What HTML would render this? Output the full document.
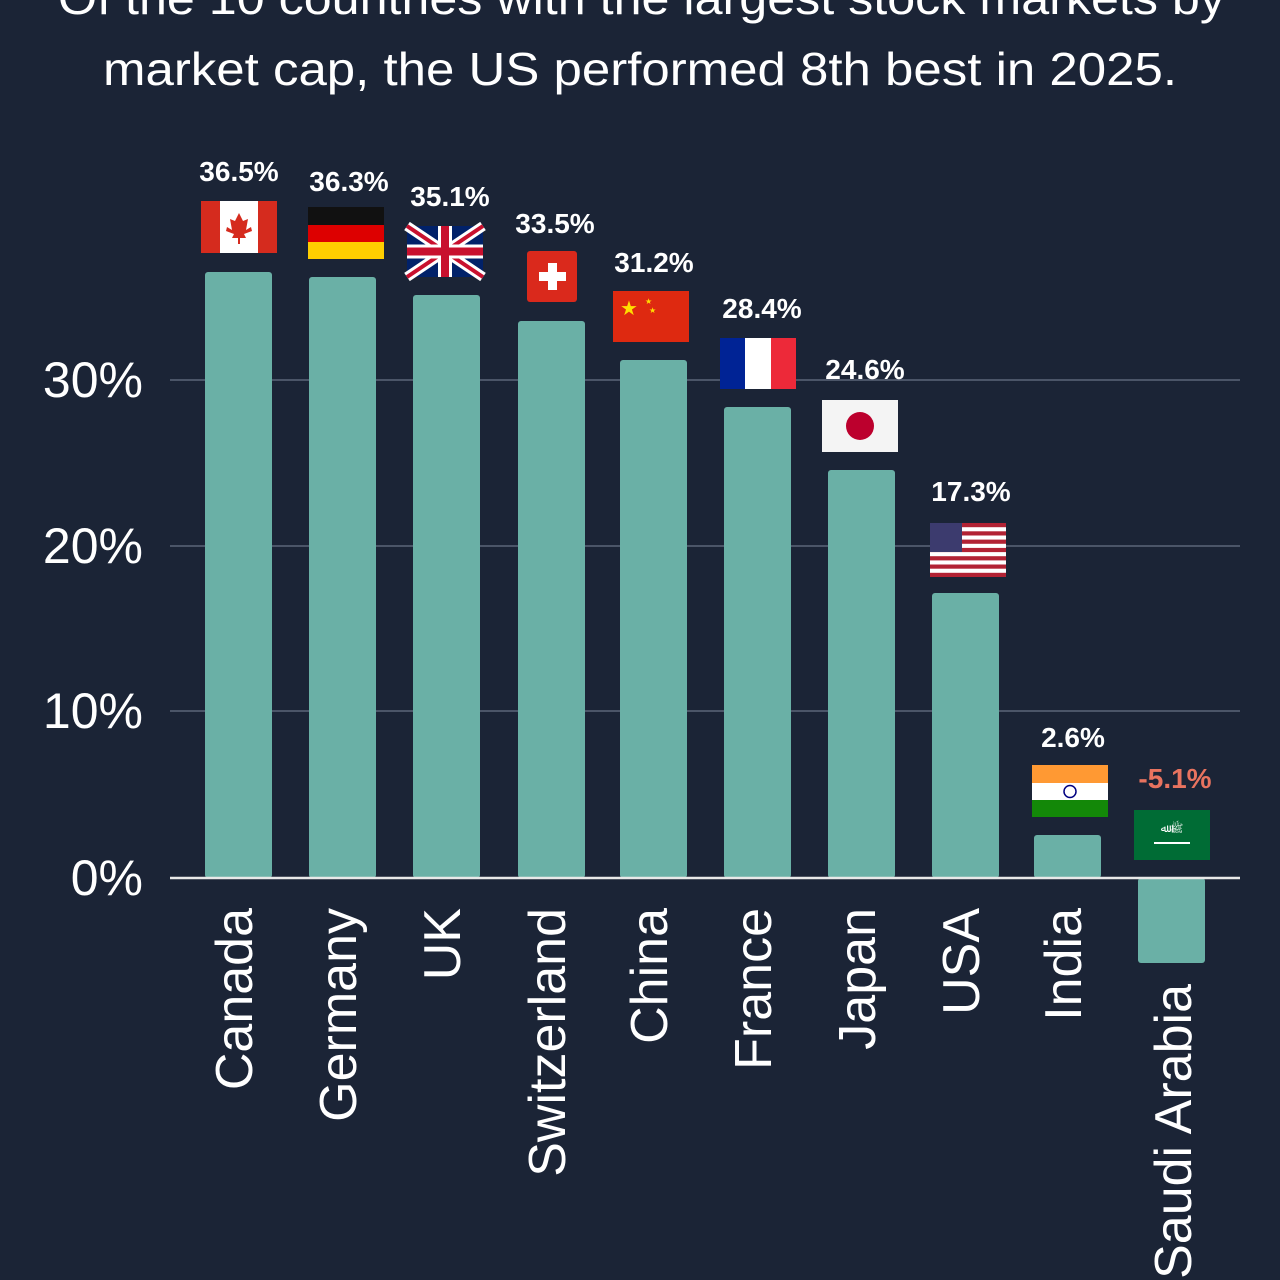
<!DOCTYPE html>
<html><head><meta charset="utf-8"><style>
html,body{margin:0;padding:0;background:#1b2436;}
svg{display:block}
</style></head><body>
<svg width="1280" height="1280" viewBox="0 0 1280 1280" xmlns="http://www.w3.org/2000/svg">
<rect width="1280" height="1280" fill="#1b2436"/>
<g font-family="Liberation Sans, sans-serif" fill="#ffffff" font-size="46">
<text x="58" y="14" textLength="1167" lengthAdjust="spacingAndGlyphs">Of the 10 countries with the largest stock markets by</text>
<text x="103" y="85" textLength="1074" lengthAdjust="spacingAndGlyphs">market cap, the US performed 8th best in 2025.</text>
</g>
<g stroke="#4b5568" stroke-width="2">
<line x1="170" y1="380" x2="1240" y2="380"/>
<line x1="170" y1="546" x2="1240" y2="546"/>
<line x1="170" y1="711" x2="1240" y2="711"/>
</g>
<g font-family="Liberation Sans, sans-serif" fill="#ffffff" font-size="50" text-anchor="end">
<text x="143" y="397">30%</text>
<text x="143" y="563">20%</text>
<text x="143" y="728">10%</text>
<text x="143" y="895">0%</text>
</g>
<g fill="#6ab0a6">
<rect x="205" y="272" width="67" height="606" rx="3"/>
<rect x="309" y="277" width="67" height="601" rx="3"/>
<rect x="413" y="295" width="67" height="583" rx="3"/>
<rect x="518" y="321" width="67" height="557" rx="3"/>
<rect x="620" y="360" width="67" height="518" rx="3"/>
<rect x="724" y="407" width="67" height="471" rx="3"/>
<rect x="828" y="470" width="67" height="408" rx="3"/>
<rect x="932" y="593" width="67" height="285" rx="3"/>
<rect x="1034" y="835" width="67" height="43" rx="3"/>
<rect x="1138" y="878" width="67" height="85" rx="3"/>
</g>
<line x1="170" y1="878" x2="1240" y2="878" stroke="#e8e8e8" stroke-width="2.5"/>
<g font-family="Liberation Sans, sans-serif" font-weight="bold" font-size="28" text-anchor="middle" fill="#ffffff">
<text x="239" y="181">36.5%</text>
<text x="349" y="191">36.3%</text>
<text x="450" y="206">35.1%</text>
<text x="555" y="233">33.5%</text>
<text x="654" y="272">31.2%</text>
<text x="762" y="318">28.4%</text>
<text x="865" y="379">24.6%</text>
<text x="971" y="501">17.3%</text>
<text x="1073" y="747">2.6%</text>
<text x="1175" y="788" fill="#e8735f">-5.1%</text>
</g>
<g>
<g transform="translate(201,201)"><rect width="76" height="52" fill="#fff"/><rect width="19" height="52" fill="#d52b1e"/><rect x="57" width="19" height="52" fill="#d52b1e"/><path d="M38 12 l4 8 5-2-2 11 5-3 1 4-8 3 2 4h-6v6h-2v-6h-6l2-4-8-3 1-4 5 3-2-11 5 2z" fill="#d52b1e"/></g>
<g transform="translate(308,207)"><rect width="76" height="18" fill="#111"/><rect y="18" width="76" height="17" fill="#dd0000"/><rect y="35" width="76" height="17" fill="#ffce00"/></g>
<g transform="translate(407,226)"><rect width="76" height="51" fill="#012169"/><path d="M0 0L76 51M76 0L0 51" stroke="#fff" stroke-width="10"/><path d="M0 0L76 51M76 0L0 51" stroke="#c8102e" stroke-width="4"/><path d="M38 0V51M0 25.5H76" stroke="#fff" stroke-width="14"/><path d="M38 0V51M0 25.5H76" stroke="#c8102e" stroke-width="8"/></g>
<g transform="translate(527,251)"><rect width="50" height="51" rx="3" fill="#da291c"/><rect x="21" y="12" width="9" height="27" fill="#fff"/><rect x="12" y="21" width="27" height="9" fill="#fff"/></g>
<g transform="translate(613,291)"><rect width="76" height="51" fill="#de2910"/><text x="16" y="24" font-size="20" fill="#ffde00" text-anchor="middle">★</text><text x="32" y="13" font-size="8" fill="#ffde00">★</text><text x="36" y="22" font-size="8" fill="#ffde00">★</text></g>
<g transform="translate(720,338)"><rect width="25" height="51" fill="#002395"/><rect x="25" width="26" height="51" fill="#fff"/><rect x="51" width="25" height="51" fill="#ed2939"/></g>
<g transform="translate(822,400)"><rect width="76" height="52" fill="#f4f4f4"/><circle cx="38" cy="26" r="14" fill="#bc002d"/></g>
<g transform="translate(930,523)"><rect width="76" height="54" fill="#fff"/>
<g fill="#b22234"><rect y="0" width="76" height="4.2"/><rect y="8.3" width="76" height="4.2"/><rect y="16.6" width="76" height="4.2"/><rect y="24.9" width="76" height="4.2"/><rect y="33.2" width="76" height="4.2"/><rect y="41.5" width="76" height="4.2"/><rect y="49.8" width="76" height="4.2"/></g>
<rect width="32" height="29" fill="#3c3b6e"/></g>
<g transform="translate(1032,765)"><rect width="76" height="18" fill="#ff9933"/><rect y="18" width="76" height="17" fill="#fff"/><rect y="35" width="76" height="17" fill="#138808"/><circle cx="38" cy="26.5" r="6" fill="none" stroke="#000080" stroke-width="1.5"/></g>
<g transform="translate(1134,810)"><rect width="76" height="50" fill="#006c35"/><text x="38" y="22" font-size="11" fill="#fff" text-anchor="middle">ﷺ ﷲ</text><rect x="20" y="32" width="36" height="2" fill="#fff"/></g>
</g>
<g font-family="Liberation Sans, sans-serif" fill="#ffffff" font-size="52" text-anchor="end">
<text transform="translate(252,908) rotate(-90)">Canada</text>
<text transform="translate(356,908) rotate(-90)">Germany</text>
<text transform="translate(460,908) rotate(-90)">UK</text>
<text transform="translate(565,908) rotate(-90)">Switzerland</text>
<text transform="translate(667,908) rotate(-90)">China</text>
<text transform="translate(771,908) rotate(-90)">France</text>
<text transform="translate(875,908) rotate(-90)">Japan</text>
<text transform="translate(979,908) rotate(-90)">USA</text>
<text transform="translate(1081,908) rotate(-90)">India</text>
<text transform="translate(1191,984) rotate(-90)">Saudi Arabia</text>
</g>
</svg>
</body></html>
